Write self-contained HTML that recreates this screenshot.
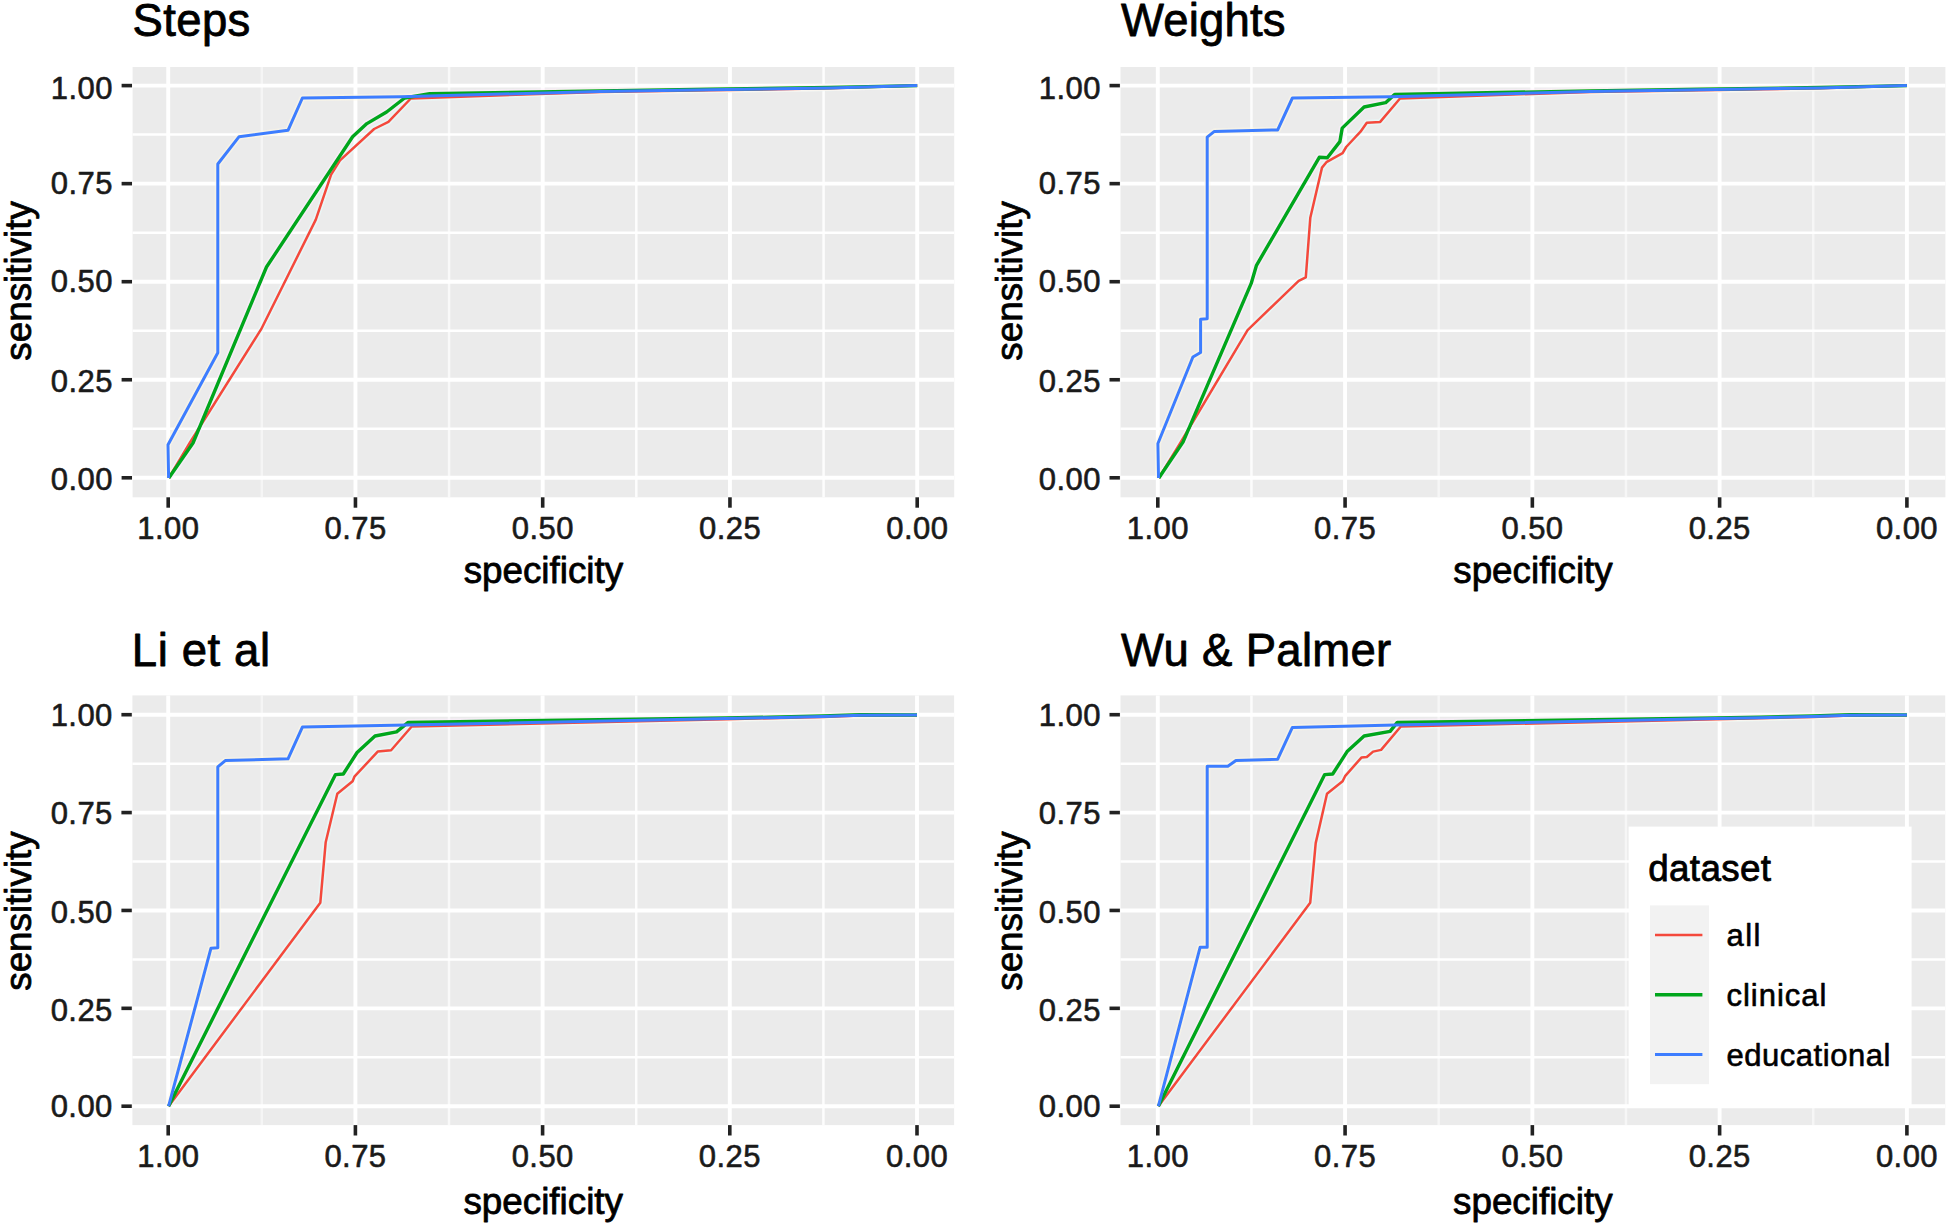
<!DOCTYPE html>
<html lang="en"><head><meta charset="utf-8"><title>ROC curves by semantic similarity measure</title>
<style>
html,body{margin:0;padding:0;background:#fff;}
body{width:1948px;height:1227px;overflow:hidden;}
svg{display:block;}
text{font-family:"Liberation Sans", sans-serif;stroke:#000;stroke-width:0.8px;stroke-linejoin:round;}
.tt{font-size:45.50px;fill:#000;}
.ax{font-size:36.80px;fill:#000;}
.tk{font-size:31.00px;fill:#1a1a1a;stroke:#1a1a1a;stroke-width:0.6px;letter-spacing:0.45px;}
.lt{font-size:36.80px;fill:#000;letter-spacing:0.35px;}
.ll{font-size:31.00px;fill:#000;stroke-width:0.6px;}
.maj{stroke:#fff;stroke-width:3.90;}
.min{stroke:#fff;stroke-width:2.50;}
.tick{stroke:#222;stroke-width:3.60;}
.c{fill:none;stroke-linejoin:round;stroke-linecap:butt;}
</style></head><body>
<svg width="1948" height="1227" viewBox="0 0 1948 1227">
<rect x="0" y="0" width="1948" height="1227" fill="#fff"/>
<g id="panel1">
<clipPath id="clip1"><rect x="132.6" y="67.0" width="821.6" height="430.3"/></clipPath>
<rect x="132.6" y="67.0" width="821.6" height="430.3" fill="#EBEBEB"/>
<line class="min" stroke-opacity="0.50" x1="261.82" y1="67.0" x2="261.82" y2="497.3"/>
<line class="min" x1="132.6" y1="134.62" x2="954.2" y2="134.62"/>
<line class="min" stroke-opacity="0.70" x1="449.07" y1="67.0" x2="449.07" y2="497.3"/>
<line class="min" x1="132.6" y1="232.68" x2="954.2" y2="232.68"/>
<line class="min" stroke-opacity="0.90" x1="636.33" y1="67.0" x2="636.33" y2="497.3"/>
<line class="min" x1="132.6" y1="330.73" x2="954.2" y2="330.73"/>
<line class="min" stroke-opacity="0.90" x1="823.58" y1="67.0" x2="823.58" y2="497.3"/>
<line class="min" x1="132.6" y1="428.78" x2="954.2" y2="428.78"/>
<line class="maj" x1="168.20" y1="67.0" x2="168.20" y2="497.3"/>
<line class="maj" x1="132.6" y1="85.60" x2="954.2" y2="85.60"/>
<line class="maj" x1="355.45" y1="67.0" x2="355.45" y2="497.3"/>
<line class="maj" x1="132.6" y1="183.65" x2="954.2" y2="183.65"/>
<line class="maj" x1="542.70" y1="67.0" x2="542.70" y2="497.3"/>
<line class="maj" x1="132.6" y1="281.70" x2="954.2" y2="281.70"/>
<line class="maj" x1="729.95" y1="67.0" x2="729.95" y2="497.3"/>
<line class="maj" x1="132.6" y1="379.75" x2="954.2" y2="379.75"/>
<line class="maj" x1="917.20" y1="67.0" x2="917.20" y2="497.3"/>
<line class="maj" x1="132.6" y1="477.80" x2="954.2" y2="477.80"/>
<g clip-path="url(#clip1)">
<polyline class="c" stroke="#EAFFFF" stroke-opacity="0.5" stroke-width="5.9" points="168.8,478.0 190.3,442.0 261.2,329.2 315.8,219.6 331.1,174.7 340.0,160.4 374.1,129.0 388.4,121.9 410.8,98.5 600.0,91.9 710.0,90.3 830.0,88.3 917.2,85.6"/>
<polyline class="c" stroke="#FFF0FF" stroke-opacity="0.5" stroke-width="6.8" points="168.8,478.0 193.0,443.0 266.5,267.0 352.6,136.7 366.9,123.6 386.6,112.0 404.6,98.0 429.7,93.7 600.0,90.9 710.0,89.3 830.0,87.5 917.2,85.6"/>
<polyline class="c" stroke="#FFF9E6" stroke-opacity="0.5" stroke-width="6.4" points="168.6,478.0 168.0,444.8 217.8,352.8 217.8,164.0 239.1,136.7 288.0,130.3 302.4,98.0 401.0,96.8 600.0,91.4 710.0,89.8 830.0,87.9 917.2,85.6"/>
<polyline class="c" stroke="#F4493C" stroke-width="2.5" points="168.8,478.0 190.3,442.0 261.2,329.2 315.8,219.6 331.1,174.7 340.0,160.4 374.1,129.0 388.4,121.9 410.8,98.5 600.0,91.9 710.0,90.3 830.0,88.3 917.2,85.6"/>
<polyline class="c" stroke="#00A61C" stroke-width="3.4" points="168.8,478.0 193.0,443.0 266.5,267.0 352.6,136.7 366.9,123.6 386.6,112.0 404.6,98.0 429.7,93.7 600.0,90.9 710.0,89.3 830.0,87.5 917.2,85.6"/>
<polyline class="c" stroke="#3D7DFF" stroke-width="3.0" points="168.6,478.0 168.0,444.8 217.8,352.8 217.8,164.0 239.1,136.7 288.0,130.3 302.4,98.0 401.0,96.8 600.0,91.4 710.0,89.8 830.0,87.9 917.2,85.6"/>
</g>
<line class="tick" x1="168.20" y1="497.3" x2="168.20" y2="507.7"/>
<line class="tick" x1="121.6" y1="85.60" x2="132.0" y2="85.60"/>
<text class="tk" text-anchor="middle" x="168.30" y="539.1">1.00</text>
<text class="tk" text-anchor="end" x="113.0" y="98.50">1.00</text>
<line class="tick" x1="355.45" y1="497.3" x2="355.45" y2="507.7"/>
<line class="tick" x1="121.6" y1="183.65" x2="132.0" y2="183.65"/>
<text class="tk" text-anchor="middle" x="355.55" y="539.1">0.75</text>
<text class="tk" text-anchor="end" x="113.0" y="193.75">0.75</text>
<line class="tick" x1="542.70" y1="497.3" x2="542.70" y2="507.7"/>
<line class="tick" x1="121.6" y1="281.70" x2="132.0" y2="281.70"/>
<text class="tk" text-anchor="middle" x="542.80" y="539.1">0.50</text>
<text class="tk" text-anchor="end" x="113.0" y="292.05">0.50</text>
<line class="tick" x1="729.95" y1="497.3" x2="729.95" y2="507.7"/>
<line class="tick" x1="121.6" y1="379.75" x2="132.0" y2="379.75"/>
<text class="tk" text-anchor="middle" x="730.05" y="539.1">0.25</text>
<text class="tk" text-anchor="end" x="113.0" y="391.55">0.25</text>
<line class="tick" x1="917.20" y1="497.3" x2="917.20" y2="507.7"/>
<line class="tick" x1="121.6" y1="477.80" x2="132.0" y2="477.80"/>
<text class="tk" text-anchor="middle" x="917.30" y="539.1">0.00</text>
<text class="tk" text-anchor="end" x="113.0" y="490.00">0.00</text>
<text class="tt" style="letter-spacing:0.35px" x="132.6" y="35.9">Steps</text>
<text class="ax" text-anchor="middle" x="543.4" y="583.3">specificity</text>
<text class="ax" text-anchor="middle" transform="translate(31.2,280.9) rotate(-90)">sensitivity</text>
</g>
<g id="panel2">
<clipPath id="clip2"><rect x="1120.5" y="67.0" width="824.9" height="430.3"/></clipPath>
<rect x="1120.5" y="67.0" width="824.9" height="430.3" fill="#EBEBEB"/>
<line class="min" stroke-opacity="0.85" x1="1251.44" y1="67.0" x2="1251.44" y2="497.3"/>
<line class="min" x1="1120.5" y1="134.62" x2="1945.4" y2="134.62"/>
<line class="min" stroke-opacity="0.55" x1="1438.71" y1="67.0" x2="1438.71" y2="497.3"/>
<line class="min" x1="1120.5" y1="232.68" x2="1945.4" y2="232.68"/>
<line class="min" stroke-opacity="0.55" x1="1625.99" y1="67.0" x2="1625.99" y2="497.3"/>
<line class="min" x1="1120.5" y1="330.73" x2="1945.4" y2="330.73"/>
<line class="min" stroke-opacity="0.55" x1="1813.26" y1="67.0" x2="1813.26" y2="497.3"/>
<line class="min" x1="1120.5" y1="428.78" x2="1945.4" y2="428.78"/>
<line class="maj" x1="1157.80" y1="67.0" x2="1157.80" y2="497.3"/>
<line class="maj" x1="1120.5" y1="85.60" x2="1945.4" y2="85.60"/>
<line class="maj" x1="1345.08" y1="67.0" x2="1345.08" y2="497.3"/>
<line class="maj" x1="1120.5" y1="183.65" x2="1945.4" y2="183.65"/>
<line class="maj" x1="1532.35" y1="67.0" x2="1532.35" y2="497.3"/>
<line class="maj" x1="1120.5" y1="281.70" x2="1945.4" y2="281.70"/>
<line class="maj" x1="1719.62" y1="67.0" x2="1719.62" y2="497.3"/>
<line class="maj" x1="1120.5" y1="379.75" x2="1945.4" y2="379.75"/>
<line class="maj" x1="1906.90" y1="67.0" x2="1906.90" y2="497.3"/>
<line class="maj" x1="1120.5" y1="477.80" x2="1945.4" y2="477.80"/>
<g clip-path="url(#clip2)">
<polyline class="c" stroke="#EAFFFF" stroke-opacity="0.5" stroke-width="5.9" points="1158.8,478.0 1180.3,443.0 1247.6,330.1 1298.7,280.8 1305.8,277.3 1310.3,217.8 1322.0,167.6 1326.4,162.2 1342.6,153.2 1346.2,147.0 1360.5,131.7 1366.8,122.7 1380.2,121.9 1400.0,98.5 1590.0,91.9 1700.0,90.3 1820.0,88.3 1906.9,85.6"/>
<polyline class="c" stroke="#FFF0FF" stroke-opacity="0.5" stroke-width="6.8" points="1158.8,478.0 1183.0,442.1 1251.2,283.4 1256.5,265.3 1319.3,157.3 1327.3,157.7 1339.9,141.6 1342.2,128.1 1364.1,107.0 1385.6,102.7 1394.6,94.4 1590.0,90.9 1700.0,89.3 1820.0,87.5 1906.9,85.6"/>
<polyline class="c" stroke="#FFF9E6" stroke-opacity="0.5" stroke-width="6.4" points="1158.5,478.0 1157.9,443.5 1192.9,357.0 1200.6,352.5 1200.6,319.3 1207.2,318.8 1207.2,137.1 1214.4,131.4 1277.7,129.9 1292.4,98.0 1391.0,96.8 1590.0,91.4 1700.0,89.8 1820.0,87.9 1906.9,85.6"/>
<polyline class="c" stroke="#F4493C" stroke-width="2.5" points="1158.8,478.0 1180.3,443.0 1247.6,330.1 1298.7,280.8 1305.8,277.3 1310.3,217.8 1322.0,167.6 1326.4,162.2 1342.6,153.2 1346.2,147.0 1360.5,131.7 1366.8,122.7 1380.2,121.9 1400.0,98.5 1590.0,91.9 1700.0,90.3 1820.0,88.3 1906.9,85.6"/>
<polyline class="c" stroke="#00A61C" stroke-width="3.4" points="1158.8,478.0 1183.0,442.1 1251.2,283.4 1256.5,265.3 1319.3,157.3 1327.3,157.7 1339.9,141.6 1342.2,128.1 1364.1,107.0 1385.6,102.7 1394.6,94.4 1590.0,90.9 1700.0,89.3 1820.0,87.5 1906.9,85.6"/>
<polyline class="c" stroke="#3D7DFF" stroke-width="3.0" points="1158.5,478.0 1157.9,443.5 1192.9,357.0 1200.6,352.5 1200.6,319.3 1207.2,318.8 1207.2,137.1 1214.4,131.4 1277.7,129.9 1292.4,98.0 1391.0,96.8 1590.0,91.4 1700.0,89.8 1820.0,87.9 1906.9,85.6"/>
</g>
<line class="tick" x1="1157.80" y1="497.3" x2="1157.80" y2="507.7"/>
<line class="tick" x1="1109.5" y1="85.60" x2="1119.9" y2="85.60"/>
<text class="tk" text-anchor="middle" x="1157.90" y="539.1">1.00</text>
<text class="tk" text-anchor="end" x="1100.9" y="98.50">1.00</text>
<line class="tick" x1="1345.08" y1="497.3" x2="1345.08" y2="507.7"/>
<line class="tick" x1="1109.5" y1="183.65" x2="1119.9" y2="183.65"/>
<text class="tk" text-anchor="middle" x="1345.17" y="539.1">0.75</text>
<text class="tk" text-anchor="end" x="1100.9" y="193.75">0.75</text>
<line class="tick" x1="1532.35" y1="497.3" x2="1532.35" y2="507.7"/>
<line class="tick" x1="1109.5" y1="281.70" x2="1119.9" y2="281.70"/>
<text class="tk" text-anchor="middle" x="1532.45" y="539.1">0.50</text>
<text class="tk" text-anchor="end" x="1100.9" y="292.05">0.50</text>
<line class="tick" x1="1719.62" y1="497.3" x2="1719.62" y2="507.7"/>
<line class="tick" x1="1109.5" y1="379.75" x2="1119.9" y2="379.75"/>
<text class="tk" text-anchor="middle" x="1719.72" y="539.1">0.25</text>
<text class="tk" text-anchor="end" x="1100.9" y="391.55">0.25</text>
<line class="tick" x1="1906.90" y1="497.3" x2="1906.90" y2="507.7"/>
<line class="tick" x1="1109.5" y1="477.80" x2="1119.9" y2="477.80"/>
<text class="tk" text-anchor="middle" x="1907.00" y="539.1">0.00</text>
<text class="tk" text-anchor="end" x="1100.9" y="490.00">0.00</text>
<text class="tt" style="letter-spacing:0.15px" x="1121.1" y="35.9">Weights</text>
<text class="ax" text-anchor="middle" x="1533.0" y="583.3">specificity</text>
<text class="ax" text-anchor="middle" transform="translate(1022.0,280.9) rotate(-90)">sensitivity</text>
</g>
<g id="panel3">
<clipPath id="clip3"><rect x="132.4" y="695.4" width="821.7" height="429.7"/></clipPath>
<rect x="132.4" y="695.4" width="821.7" height="429.7" fill="#EBEBEB"/>
<line class="min" stroke-opacity="0.50" x1="261.80" y1="695.4" x2="261.80" y2="1125.1"/>
<line class="min" x1="132.4" y1="763.64" x2="954.1" y2="763.64"/>
<line class="min" stroke-opacity="0.70" x1="449.00" y1="695.4" x2="449.00" y2="1125.1"/>
<line class="min" x1="132.4" y1="861.51" x2="954.1" y2="861.51"/>
<line class="min" stroke-opacity="0.90" x1="636.20" y1="695.4" x2="636.20" y2="1125.1"/>
<line class="min" x1="132.4" y1="959.39" x2="954.1" y2="959.39"/>
<line class="min" stroke-opacity="0.90" x1="823.40" y1="695.4" x2="823.40" y2="1125.1"/>
<line class="min" x1="132.4" y1="1057.26" x2="954.1" y2="1057.26"/>
<line class="maj" x1="168.20" y1="695.4" x2="168.20" y2="1125.1"/>
<line class="maj" x1="132.4" y1="714.70" x2="954.1" y2="714.70"/>
<line class="maj" x1="355.40" y1="695.4" x2="355.40" y2="1125.1"/>
<line class="maj" x1="132.4" y1="812.58" x2="954.1" y2="812.58"/>
<line class="maj" x1="542.60" y1="695.4" x2="542.60" y2="1125.1"/>
<line class="maj" x1="132.4" y1="910.45" x2="954.1" y2="910.45"/>
<line class="maj" x1="729.80" y1="695.4" x2="729.80" y2="1125.1"/>
<line class="maj" x1="132.4" y1="1008.33" x2="954.1" y2="1008.33"/>
<line class="maj" x1="917.00" y1="695.4" x2="917.00" y2="1125.1"/>
<line class="maj" x1="132.4" y1="1106.20" x2="954.1" y2="1106.20"/>
<g clip-path="url(#clip3)">
<polyline class="c" stroke="#EAFFFF" stroke-opacity="0.5" stroke-width="5.9" points="168.6,1106.2 320.3,902.8 325.7,842.2 337.3,793.8 352.6,781.2 354.4,776.7 377.7,751.6 391.1,750.2 411.7,726.5 726.0,719.2 770.0,718.2 823.0,716.9 860.0,715.6 917.0,715.2"/>
<polyline class="c" stroke="#FFF0FF" stroke-opacity="0.5" stroke-width="6.8" points="168.6,1106.2 335.5,774.6 343.3,774.0 357.1,752.5 375.0,736.0 396.5,731.9 408.2,722.4 726.0,718.0 770.0,717.2 823.0,715.9 860.0,714.8 917.0,715.0"/>
<polyline class="c" stroke="#FFF9E6" stroke-opacity="0.5" stroke-width="6.4" points="168.6,1106.2 211.0,948.2 217.8,947.8 217.8,766.9 225.3,760.6 288.0,758.8 302.4,727.1 406.4,725.1 726.0,718.6 770.0,717.7 823.0,716.4 860.0,715.2 917.0,715.1"/>
<polyline class="c" stroke="#F4493C" stroke-width="2.5" points="168.6,1106.2 320.3,902.8 325.7,842.2 337.3,793.8 352.6,781.2 354.4,776.7 377.7,751.6 391.1,750.2 411.7,726.5 726.0,719.2 770.0,718.2 823.0,716.9 860.0,715.6 917.0,715.2"/>
<polyline class="c" stroke="#00A61C" stroke-width="3.4" points="168.6,1106.2 335.5,774.6 343.3,774.0 357.1,752.5 375.0,736.0 396.5,731.9 408.2,722.4 726.0,718.0 770.0,717.2 823.0,715.9 860.0,714.8 917.0,715.0"/>
<polyline class="c" stroke="#3D7DFF" stroke-width="3.0" points="168.6,1106.2 211.0,948.2 217.8,947.8 217.8,766.9 225.3,760.6 288.0,758.8 302.4,727.1 406.4,725.1 726.0,718.6 770.0,717.7 823.0,716.4 860.0,715.2 917.0,715.1"/>
</g>
<line class="tick" x1="168.20" y1="1125.1" x2="168.20" y2="1135.5"/>
<line class="tick" x1="121.4" y1="714.70" x2="131.8" y2="714.70"/>
<text class="tk" text-anchor="middle" x="168.30" y="1166.9">1.00</text>
<text class="tk" text-anchor="end" x="112.8" y="726.40">1.00</text>
<line class="tick" x1="355.40" y1="1125.1" x2="355.40" y2="1135.5"/>
<line class="tick" x1="121.4" y1="812.58" x2="131.8" y2="812.58"/>
<text class="tk" text-anchor="middle" x="355.50" y="1166.9">0.75</text>
<text class="tk" text-anchor="end" x="112.8" y="824.08">0.75</text>
<line class="tick" x1="542.60" y1="1125.1" x2="542.60" y2="1135.5"/>
<line class="tick" x1="121.4" y1="910.45" x2="131.8" y2="910.45"/>
<text class="tk" text-anchor="middle" x="542.70" y="1166.9">0.50</text>
<text class="tk" text-anchor="end" x="112.8" y="923.45">0.50</text>
<line class="tick" x1="729.80" y1="1125.1" x2="729.80" y2="1135.5"/>
<line class="tick" x1="121.4" y1="1008.33" x2="131.8" y2="1008.33"/>
<text class="tk" text-anchor="middle" x="729.90" y="1166.9">0.25</text>
<text class="tk" text-anchor="end" x="112.8" y="1021.43">0.25</text>
<line class="tick" x1="917.00" y1="1125.1" x2="917.00" y2="1135.5"/>
<line class="tick" x1="121.4" y1="1106.20" x2="131.8" y2="1106.20"/>
<text class="tk" text-anchor="middle" x="917.10" y="1166.9">0.00</text>
<text class="tk" text-anchor="end" x="112.8" y="1117.30">0.00</text>
<text class="tt" style="letter-spacing:0.60px" x="131.8" y="665.8">Li et al</text>
<text class="ax" text-anchor="middle" x="543.2" y="1213.8">specificity</text>
<text class="ax" text-anchor="middle" transform="translate(31.0,911.0) rotate(-90)">sensitivity</text>
</g>
<g id="panel4">
<clipPath id="clip4"><rect x="1120.5" y="695.4" width="824.7" height="429.7"/></clipPath>
<rect x="1120.5" y="695.4" width="824.7" height="429.7" fill="#EBEBEB"/>
<line class="min" stroke-opacity="0.85" x1="1251.44" y1="695.4" x2="1251.44" y2="1125.1"/>
<line class="min" x1="1120.5" y1="763.64" x2="1945.2" y2="763.64"/>
<line class="min" stroke-opacity="0.55" x1="1438.71" y1="695.4" x2="1438.71" y2="1125.1"/>
<line class="min" x1="1120.5" y1="861.51" x2="1945.2" y2="861.51"/>
<line class="min" stroke-opacity="0.55" x1="1625.99" y1="695.4" x2="1625.99" y2="1125.1"/>
<line class="min" x1="1120.5" y1="959.39" x2="1945.2" y2="959.39"/>
<line class="min" stroke-opacity="0.55" x1="1813.26" y1="695.4" x2="1813.26" y2="1125.1"/>
<line class="min" x1="1120.5" y1="1057.26" x2="1945.2" y2="1057.26"/>
<line class="maj" x1="1157.80" y1="695.4" x2="1157.80" y2="1125.1"/>
<line class="maj" x1="1120.5" y1="714.70" x2="1945.2" y2="714.70"/>
<line class="maj" x1="1345.08" y1="695.4" x2="1345.08" y2="1125.1"/>
<line class="maj" x1="1120.5" y1="812.58" x2="1945.2" y2="812.58"/>
<line class="maj" x1="1532.35" y1="695.4" x2="1532.35" y2="1125.1"/>
<line class="maj" x1="1120.5" y1="910.45" x2="1945.2" y2="910.45"/>
<line class="maj" x1="1719.62" y1="695.4" x2="1719.62" y2="1125.1"/>
<line class="maj" x1="1120.5" y1="1008.33" x2="1945.2" y2="1008.33"/>
<line class="maj" x1="1906.90" y1="695.4" x2="1906.90" y2="1125.1"/>
<line class="maj" x1="1120.5" y1="1106.20" x2="1945.2" y2="1106.20"/>
<g clip-path="url(#clip4)">
<polyline class="c" stroke="#EAFFFF" stroke-opacity="0.5" stroke-width="5.9" points="1158.4,1106.2 1310.2,902.8 1315.7,843.1 1327.0,793.8 1342.6,781.2 1345.3,775.8 1361.4,757.6 1366.8,757.0 1373.1,751.6 1381.1,749.9 1400.8,726.5 1716.0,719.2 1760.0,718.2 1813.0,716.9 1850.0,715.6 1906.9,715.2"/>
<polyline class="c" stroke="#FFF0FF" stroke-opacity="0.5" stroke-width="6.8" points="1158.4,1106.2 1324.7,774.6 1332.7,774.0 1347.1,751.6 1364.1,736.0 1390.1,731.4 1397.3,722.4 1716.0,718.0 1760.0,717.2 1813.0,715.9 1850.0,714.8 1906.9,715.0"/>
<polyline class="c" stroke="#FFF9E6" stroke-opacity="0.5" stroke-width="6.4" points="1158.4,1106.2 1200.1,947.3 1207.2,947.3 1207.2,766.3 1227.8,766.3 1235.9,760.6 1277.7,759.2 1292.4,727.4 1395.5,725.1 1716.0,718.6 1760.0,717.7 1813.0,716.4 1850.0,715.2 1906.9,715.1"/>
<polyline class="c" stroke="#F4493C" stroke-width="2.5" points="1158.4,1106.2 1310.2,902.8 1315.7,843.1 1327.0,793.8 1342.6,781.2 1345.3,775.8 1361.4,757.6 1366.8,757.0 1373.1,751.6 1381.1,749.9 1400.8,726.5 1716.0,719.2 1760.0,718.2 1813.0,716.9 1850.0,715.6 1906.9,715.2"/>
<polyline class="c" stroke="#00A61C" stroke-width="3.4" points="1158.4,1106.2 1324.7,774.6 1332.7,774.0 1347.1,751.6 1364.1,736.0 1390.1,731.4 1397.3,722.4 1716.0,718.0 1760.0,717.2 1813.0,715.9 1850.0,714.8 1906.9,715.0"/>
<polyline class="c" stroke="#3D7DFF" stroke-width="3.0" points="1158.4,1106.2 1200.1,947.3 1207.2,947.3 1207.2,766.3 1227.8,766.3 1235.9,760.6 1277.7,759.2 1292.4,727.4 1395.5,725.1 1716.0,718.6 1760.0,717.7 1813.0,716.4 1850.0,715.2 1906.9,715.1"/>
</g>
<g id="legend">
<rect x="1628.6" y="826.6" width="283.0" height="279.5" fill="#fff"/>
<text class="lt" x="1648.2" y="880.9">dataset</text>
<rect x="1650.0" y="905.4" width="59.0" height="178.8" fill="#F2F2F2"/>
<line x1="1655.0" y1="935.0" x2="1702.4" y2="935.0" stroke="#F4493C" stroke-width="2.50"/>
<text class="ll" style="letter-spacing:1.50px" x="1726.4" y="946.2">all</text>
<line x1="1655.0" y1="994.7" x2="1702.4" y2="994.7" stroke="#00A61C" stroke-width="3.40"/>
<text class="ll" style="letter-spacing:1.00px" x="1726.4" y="1005.9">clinical</text>
<line x1="1655.0" y1="1054.4" x2="1702.4" y2="1054.4" stroke="#3D7DFF" stroke-width="3.00"/>
<text class="ll" style="letter-spacing:0.55px" x="1726.4" y="1065.6">educational</text>
</g>
<line class="tick" x1="1157.80" y1="1125.1" x2="1157.80" y2="1135.5"/>
<line class="tick" x1="1109.5" y1="714.70" x2="1119.9" y2="714.70"/>
<text class="tk" text-anchor="middle" x="1157.90" y="1166.9">1.00</text>
<text class="tk" text-anchor="end" x="1100.9" y="726.40">1.00</text>
<line class="tick" x1="1345.08" y1="1125.1" x2="1345.08" y2="1135.5"/>
<line class="tick" x1="1109.5" y1="812.58" x2="1119.9" y2="812.58"/>
<text class="tk" text-anchor="middle" x="1345.17" y="1166.9">0.75</text>
<text class="tk" text-anchor="end" x="1100.9" y="824.08">0.75</text>
<line class="tick" x1="1532.35" y1="1125.1" x2="1532.35" y2="1135.5"/>
<line class="tick" x1="1109.5" y1="910.45" x2="1119.9" y2="910.45"/>
<text class="tk" text-anchor="middle" x="1532.45" y="1166.9">0.50</text>
<text class="tk" text-anchor="end" x="1100.9" y="923.45">0.50</text>
<line class="tick" x1="1719.62" y1="1125.1" x2="1719.62" y2="1135.5"/>
<line class="tick" x1="1109.5" y1="1008.33" x2="1119.9" y2="1008.33"/>
<text class="tk" text-anchor="middle" x="1719.72" y="1166.9">0.25</text>
<text class="tk" text-anchor="end" x="1100.9" y="1021.43">0.25</text>
<line class="tick" x1="1906.90" y1="1125.1" x2="1906.90" y2="1135.5"/>
<line class="tick" x1="1109.5" y1="1106.20" x2="1119.9" y2="1106.20"/>
<text class="tk" text-anchor="middle" x="1907.00" y="1166.9">0.00</text>
<text class="tk" text-anchor="end" x="1100.9" y="1117.30">0.00</text>
<text class="tt" style="letter-spacing:0.30px" x="1121.1" y="665.8">Wu &amp; Palmer</text>
<text class="ax" text-anchor="middle" x="1532.8" y="1213.8">specificity</text>
<text class="ax" text-anchor="middle" transform="translate(1022.0,911.0) rotate(-90)">sensitivity</text>
</g>
</svg>
</body></html>
